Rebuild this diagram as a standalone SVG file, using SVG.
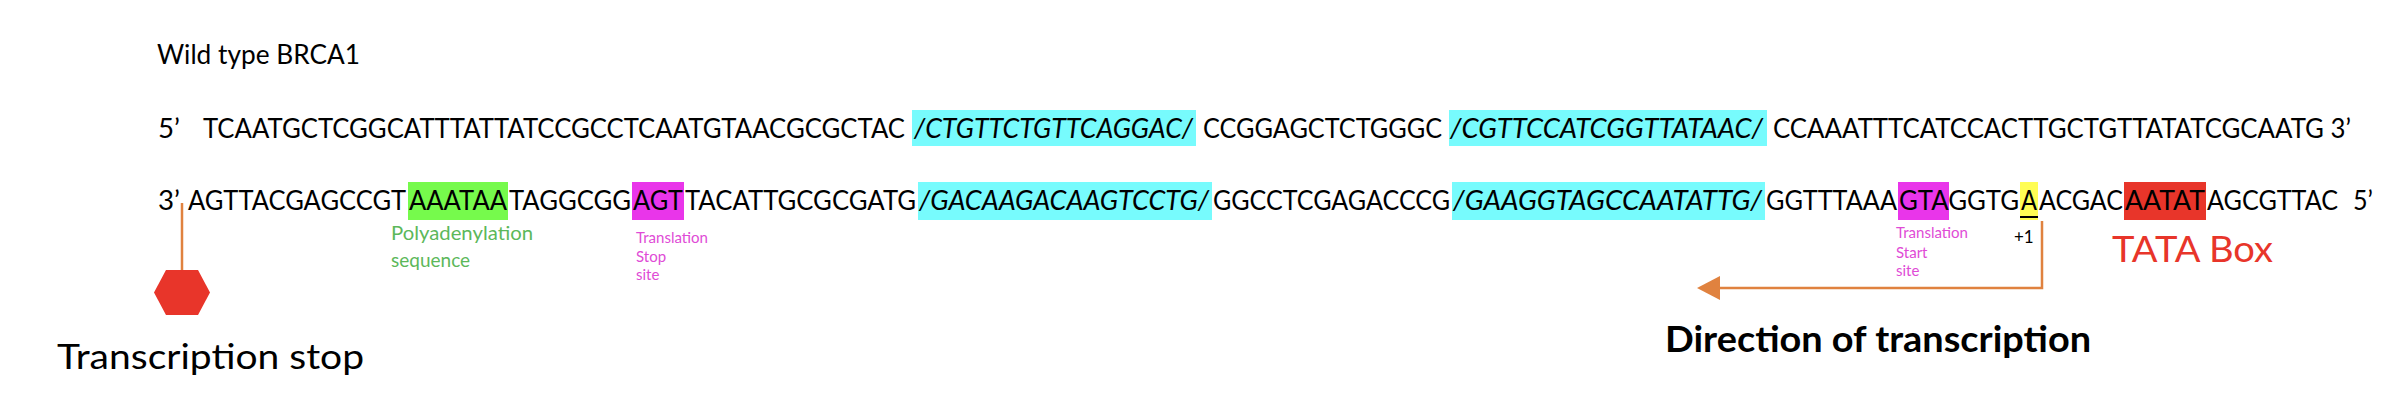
<svg xmlns="http://www.w3.org/2000/svg" width="2396" height="400" viewBox="0 0 2396 400">
<style>
.seq{font-family:Lato,"Liberation Sans",sans-serif;font-size:27px;fill:#000}
.it{font-style:italic}
.lbl{font-family:Lato,"Liberation Sans",sans-serif}
.cyan{fill:#77FBFD}
.green{fill:#76FA4C}
.mag{fill:#E935EA}
.yel{fill:#FFFD54}
.red{fill:#E8352A}
.conn{stroke:#E0823F;stroke-width:2.5;fill:none}
</style>
<rect width="2396" height="400" fill="#fff"/>
<g id="title"><text class="seq" x="157" y="64" textLength="203" lengthAdjust="spacingAndGlyphs">Wild type BRCA1</text></g>
<g id="highlights">
<rect class="cyan" x="912" y="110" width="284" height="36"/>
<rect class="cyan" x="1449" y="110" width="318" height="36"/>
<rect class="green" x="408" y="182" width="100" height="38"/>
<rect class="mag" x="632" y="182" width="52" height="38"/>
<rect class="cyan" x="918" y="182" width="294" height="38"/>
<rect class="cyan" x="1452" y="182" width="313" height="38"/>
<rect class="mag" x="1898" y="182" width="51" height="38"/>
<rect class="yel" x="2020" y="182" width="18" height="38"/>
<rect class="red" x="2124" y="182" width="82" height="38"/>
</g>
<g id="top-strand">
<text class="seq" x="158" y="138" textLength="22" lengthAdjust="spacingAndGlyphs">5’</text>
<text class="seq" x="203" y="138" textLength="702" lengthAdjust="spacingAndGlyphs">TCAATGCTCGGCATTTATTATCCGCCTCAATGTAACGCGCTAC</text>
<text class="seq it" x="914" y="138" textLength="279" lengthAdjust="spacingAndGlyphs">/CTGTTCTGTTCAGGAC/</text>
<text class="seq" x="1203" y="138" textLength="239" lengthAdjust="spacingAndGlyphs">CCGGAGCTCTGGGC</text>
<text class="seq it" x="1450" y="138" textLength="313" lengthAdjust="spacingAndGlyphs">/CGTTCCATCGGTTATAAC/</text>
<text class="seq" x="1773" y="138" textLength="578" lengthAdjust="spacingAndGlyphs">CCAAATTTCATCCACTTGCTGTTATATCGCAATG 3’</text>
</g>
<g id="bottom-strand">
<text class="seq" x="158" y="210" textLength="22" lengthAdjust="spacingAndGlyphs">3’</text>
<text class="seq" x="188" y="210" textLength="218" lengthAdjust="spacingAndGlyphs">AGTTACGAGCCGT</text>
<text class="seq" x="409" y="210" textLength="98" lengthAdjust="spacingAndGlyphs">AAATAA</text>
<text class="seq" x="509" y="210" textLength="122" lengthAdjust="spacingAndGlyphs">TAGGCGG</text>
<text class="seq" x="633" y="210" textLength="50" lengthAdjust="spacingAndGlyphs">AGT</text>
<text class="seq" x="685" y="210" textLength="231" lengthAdjust="spacingAndGlyphs">TACATTGCGCGATG</text>
<text class="seq it" x="919" y="210" textLength="290" lengthAdjust="spacingAndGlyphs">/GACAAGACAAGTCCTG/</text>
<text class="seq" x="1213" y="210" textLength="237" lengthAdjust="spacingAndGlyphs">GGCCTCGAGACCCG</text>
<text class="seq it" x="1453" y="210" textLength="309" lengthAdjust="spacingAndGlyphs">/GAAGGTAGCCAATATTG/</text>
<text class="seq" x="1766" y="210" textLength="131" lengthAdjust="spacingAndGlyphs">GGTTTAAA</text>
<text class="seq" x="1899" y="210" textLength="120" lengthAdjust="spacingAndGlyphs">GTAGGTG</text>
<text class="seq" x="2021" y="210" textLength="16" lengthAdjust="spacingAndGlyphs">A</text>
<line x1="2020" y1="217" x2="2038" y2="217" stroke="#000" stroke-width="2"/>
<text class="seq" x="2039" y="210" textLength="84" lengthAdjust="spacingAndGlyphs">ACGAC</text>
<text class="seq" x="2125" y="210" textLength="80" lengthAdjust="spacingAndGlyphs">AATAT</text>
<text class="seq" x="2207" y="210" textLength="131" lengthAdjust="spacingAndGlyphs">AGCGTTAC</text>
<text class="seq" x="2353" y="210" textLength="20" lengthAdjust="spacingAndGlyphs">5’</text>
</g>
<g id="polyadenylation-label" class="lbl" font-size="19" fill="#5CB85A">
<text x="391" y="240" textLength="142" lengthAdjust="spacingAndGlyphs">Polyadenylation</text>
<text x="391" y="267">sequence</text>
</g>
<g id="translation-stop-label" class="lbl" font-size="15" fill="#E04BD6">
<text x="636" y="243" textLength="72" lengthAdjust="spacingAndGlyphs">Translation</text>
<text x="636" y="262">Stop</text>
<text x="636" y="280">site</text>
</g>
<g id="translation-start-label" class="lbl" font-size="15" fill="#E04BD6">
<text x="1896" y="238" textLength="72" lengthAdjust="spacingAndGlyphs">Translation</text>
<text x="1896" y="258">Start</text>
<text x="1896" y="276">site</text>
</g>
<g id="plus-one"><text class="lbl" x="2014" y="243" font-size="17" fill="#000">+1</text></g>
<g id="tata-box"><text class="lbl" x="2112" y="262" font-size="37" fill="#E8352A" textLength="161" lengthAdjust="spacingAndGlyphs">TATA Box</text></g>
<g id="transcription-stop">
<polygon points="154,292.5 166,270 198,270 210,292.5 198,315 166,315" fill="#E8352A"/>
<text class="lbl" x="57" y="369" font-size="34" fill="#000" textLength="307" lengthAdjust="spacingAndGlyphs">Transcription stop</text>
</g>
<g id="direction-of-transcription"><text class="lbl" x="1665" y="352" font-size="37" font-weight="bold" fill="#000" textLength="426" lengthAdjust="spacingAndGlyphs">Direction of transcription</text></g>
<g id="connectors">
<line class="conn" x1="182" y1="203" x2="182" y2="270"/>
<polyline class="conn" points="2042,221 2042,288 1718,288"/>
<polygon points="1697,288 1720,276 1720,300" fill="#E0823F"/>
</g>
</svg>
